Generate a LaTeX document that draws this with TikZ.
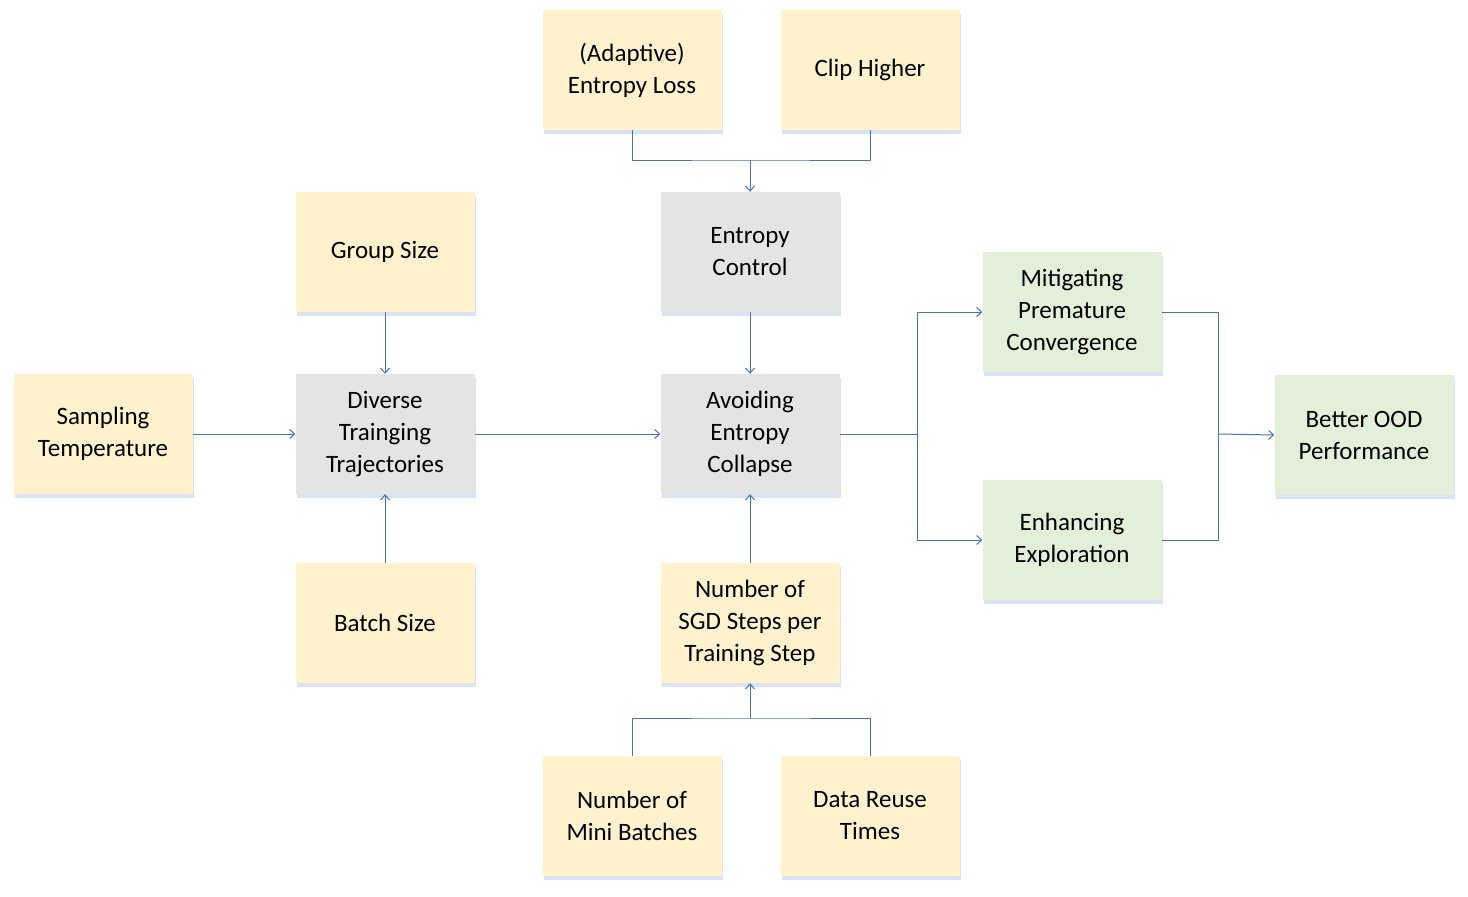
\documentclass[tikz,border=0pt]{standalone}
\usepackage{fontspec}
\setmainfont{Carlito}
\usetikzlibrary{arrows.meta,calc}
\definecolor{yel}{HTML}{FFF2CC}
\definecolor{gry}{HTML}{E4E4E4}
\definecolor{grn}{HTML}{E2F0D9}
\definecolor{ln}{HTML}{4472C4}
\tikzset{
  box/.style={minimum width=179pt,minimum height=120pt,align=center,inner sep=0pt,
    font=\fontsize{25}{32}\selectfont,
    preaction={fill=ln!40,opacity=0.5,transform canvas={yshift=-4pt,xshift=1pt}}},
  ybox/.style={box,fill=yel},
  gbox/.style={box,fill=gry},
  nbox/.style={box,fill=grn},
  conn/.style={draw=ln,line width=1pt,-{Straight Barb[length=5pt,width=9pt]}},
  line/.style={draw=ln,line width=1pt}
}
\begin{document}
\begin{tikzpicture}[x=1pt,y=-1pt]
\useasboundingbox (0,0) rectangle (1468,897);
\node[ybox] (ael) at (632,70) {(Adaptive)\\Entropy Loss};
\node[ybox] (clip) at (870,70) {Clip Higher};
\node[ybox] (grp) at (385,252) {Group Size};
\node[gbox] (ec) at (750,252) {Entropy\\Control};
\node[ybox] (samp) at (103,434) {Sampling\\Temperature};
\node[gbox] (div) at (385,434) {Diverse\\Trainging\\Trajectories};
\node[gbox] (avo) at (750,434) {Avoiding\\Entropy\\Collapse};
\node[nbox] (mit) at (1072,312) {Mitigating\\Premature\\Convergence};
\node[nbox] (enh) at (1072,540) {Enhancing\\Exploration};
\node[nbox] (ood) at (1364,435) {Better OOD\\Performance};
\node[ybox] (bat) at (385,623) {Batch Size};
\node[ybox] (sgd) at (750,623) {Number of\\SGD Steps per\\Training Step};
\node[ybox] (mini) at (632,816) {Number of\\Mini Batches};
\node[ybox] (reuse) at (870,816) {Data Reuse\\Times};
\coordinate (top) at (750,160);
\coordinate (bot) at (750,718);
\coordinate (split) at (917,434);
\coordinate (join) at (1218,434);
\draw[line] (ael.south) |- (top) -| (clip.south);
\draw[conn] (top) -- (ec.north);
\draw[conn] (ec) -- (avo);
\draw[conn] (grp) -- (div);
\draw[conn] (bat) -- (div);
\draw[conn] (samp) -- (div);
\draw[conn] (div) -- (avo);
\draw[line] (mini.north) |- (bot) -| (reuse.north);
\draw[conn] (bot) -- (sgd.south);
\draw[conn] (sgd) -- (avo);
\draw[line] (avo.east) -- (split);
\draw[conn] (split) |- (mit.west);
\draw[conn] (split) |- (enh.west);
\draw[line] (mit.east) -| (join);
\draw[line] (enh.east) -| (join);
\draw[conn] (join) -- (ood.west);
\end{tikzpicture}
\end{document}
